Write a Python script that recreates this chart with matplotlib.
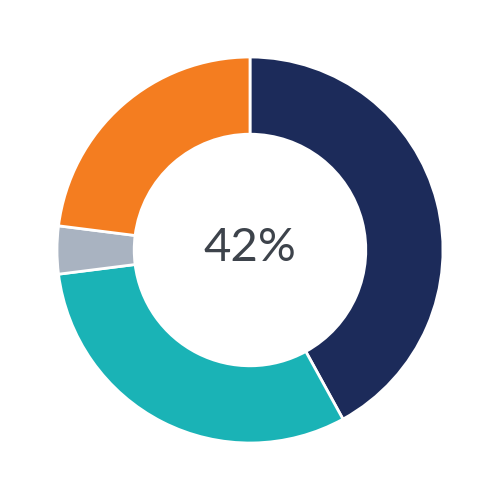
import matplotlib.pyplot as plt

labels = ['Navy', 'Teal', 'Gray', 'Orange']
shares = [42, 31, 4, 23]
colors = ['#1c2b5a', '#1ab3b6', '#a9b3c1', '#f47d20']
center_label = '42%'

fig = plt.figure(figsize=(5, 5), dpi=100)
ax = fig.add_axes([0, 0, 1, 1])

ax.pie(shares, colors=colors, startangle=90, counterclock=False,
       radius=1.0,
       wedgeprops=dict(width=0.4, edgecolor='white', linewidth=2))
ax.text(0, 0.01, center_label, ha='center', va='center', fontsize=34,
        family=['Lato', 'DejaVu Sans'], weight='normal', color='#3d434b')

lim = 250 / 193
ax.set_xlim(-lim, lim)
ax.set_ylim(-lim, lim)
ax.set_aspect('equal')
ax.axis('off')

fig.savefig('out.png', dpi=100, facecolor='white')
